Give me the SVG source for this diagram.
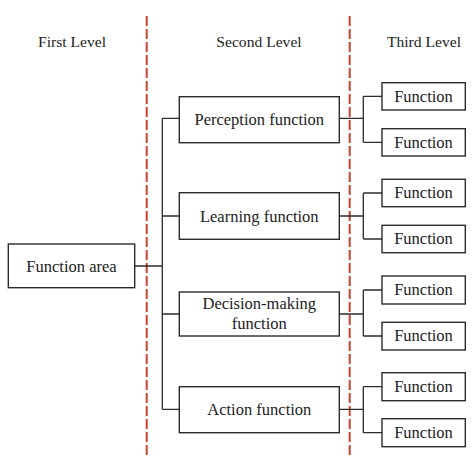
<svg xmlns="http://www.w3.org/2000/svg" width="474" height="474" viewBox="0 0 474 474">
<style>
.bg{fill:#fff}
.box{fill:#fff;stroke:#2b2b2b;stroke-width:1.4}
.t{font-family:"Liberation Serif","Times New Roman",serif;font-size:16.5px;fill:#222;text-anchor:middle}
.h{font-family:"Liberation Serif","Times New Roman",serif;font-size:15.6px;fill:#222;text-anchor:middle}
.c{fill:none;stroke:#2b2b2b;stroke-width:1.3}
.d{fill:none;stroke:#c8432e;stroke-width:2;stroke-dasharray:10 3}
</style>
<rect class="bg" x="0" y="0" width="474" height="474"/>
<g id="dividers">
<line class="d" x1="146.7" y1="16" x2="146.7" y2="456"/>
<line class="d" x1="349.7" y1="16" x2="349.7" y2="456"/>
</g>
<g id="headers">
<text class="h" x="72" y="47">First Level</text>
<text class="h" x="259" y="47">Second Level</text>
<text class="h" x="424" y="47">Third Level</text>
</g>
<g id="connectors">
<path class="c" d="M134.7 266 H162.3 M162.3 118.3 V409.3 M162.3 118.3 H179.3 M162.3 216 H179.3 M162.3 314 H179.3 M162.3 409.3 H179.3"/>
<path class="c" d="M339.3 118.3 H363.3 M363.3 96.3 V142.3 M363.3 96.3 H382 M363.3 142.3 H382"/>
<path class="c" d="M339.3 216 H363.3 M363.3 193 V239 M363.3 193 H382 M363.3 239 H382"/>
<path class="c" d="M339.3 314 H363.3 M363.3 290 V336 M363.3 290 H382 M363.3 336 H382"/>
<path class="c" d="M339.3 409.3 H363.3 M363.3 386.7 V432.7 M363.3 386.7 H382 M363.3 432.7 H382"/>
</g>
<g id="function-area">
<rect class="box" x="8.3" y="244" width="126.4" height="43.7"/>
<text class="t" x="71.5" y="271.5">Function area</text>
</g>
<g id="perception">
<rect class="box" x="179.3" y="96.7" width="160" height="46"/>
<text class="t" x="259.3" y="124.5">Perception function</text>
</g>
<g id="learning">
<rect class="box" x="179.3" y="192.7" width="160" height="46.6"/>
<text class="t" x="259.3" y="221.5">Learning function</text>
</g>
<g id="decision">
<rect class="box" x="179.3" y="292" width="160" height="44"/>
<text class="t" x="259.3" y="309">Decision-making</text>
<text class="t" x="259.3" y="328.5">function</text>
</g>
<g id="action">
<rect class="box" x="179.3" y="386.7" width="160" height="46"/>
<text class="t" x="259.3" y="414.5">Action function</text>
</g>
<g id="f1"><rect class="box" x="382" y="82.7" width="83.3" height="27.3"/><text class="t" x="423.5" y="101.5">Function</text></g>
<g id="f2"><rect class="box" x="382" y="128.7" width="83.3" height="27.3"/><text class="t" x="423.5" y="147.5">Function</text></g>
<g id="f3"><rect class="box" x="382" y="179.3" width="83.3" height="27.4"/><text class="t" x="423.5" y="198">Function</text></g>
<g id="f4"><rect class="box" x="382" y="225.3" width="83.3" height="27.4"/><text class="t" x="423.5" y="244">Function</text></g>
<g id="f5"><rect class="box" x="382" y="276" width="83.3" height="28"/><text class="t" x="423.5" y="295">Function</text></g>
<g id="f6"><rect class="box" x="382" y="322.3" width="83.3" height="27.7"/><text class="t" x="423.5" y="341">Function</text></g>
<g id="f7"><rect class="box" x="382" y="372.7" width="83.3" height="28"/><text class="t" x="423.5" y="391.5">Function</text></g>
<g id="f8"><rect class="box" x="382" y="418.7" width="83.3" height="28"/><text class="t" x="423.5" y="437.5">Function</text></g>
</svg>
